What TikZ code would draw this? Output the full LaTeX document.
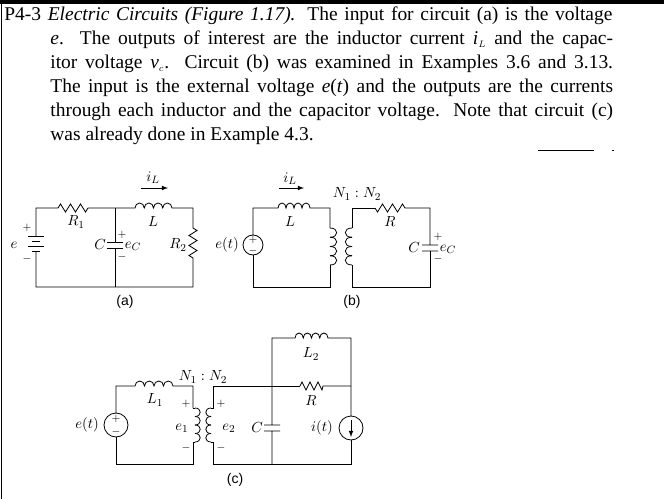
\documentclass[tikz,border=0pt]{standalone}
\usepackage{fontspec}
\setmainfont{Liberation Serif}
\setsansfont{Liberation Sans}
\newcommand\vcoil[5]{% x, y0, step, n, bulge (+right/-left)
  \foreach \k in {1,...,#4}{
    \draw ({#1},{#2+#3*(\k-1)}) .. controls ({#1+#5},{#2+#3*(\k-1)}) and ({#1+#5},{#2+#3*\k}) .. ({#1},{#2+#3*\k});}}
\begin{document}
\begin{tikzpicture}[x=0.75pt,y=-0.75pt,line width=0.6pt,
  lbl/.style={font=\fontsize{11}{12}\selectfont,inner sep=0pt},
  pm/.style={font=\fontsize{8}{9}\selectfont,inner sep=0pt},
  sub/.style={font=\sffamily\fontsize{10.5}{12}\selectfont,inner sep=0pt},
  txt/.style={font=\fontsize{14.6}{16}\selectfont,anchor=base west,inner sep=0pt}]
\useasboundingbox (0,0) rectangle (664,499);
\fill (0,0) rectangle (664,4);
\draw (1,0) -- (1,499);
\draw (538,150) -- (594,150); \draw (612,150) -- (614,150);
% text
\node[txt] (t1) at (4,21) {\makebox[456pt][s]{P4-3 \textit{Electric Circuits (Figure 1.17).} The input for circuit (a) is the voltage}};
\node[txt] (t2) at (50,45) {\makebox[422pt][s]{\textit{e}. The outputs of interest are the inductor current \textit{i}$_{\scriptscriptstyle L}$ and the capac-}};
\node[txt] (t3) at (50,69) {\makebox[422pt][s]{itor voltage \textit{v}$_{\scriptscriptstyle c}$. Circuit (b) was examined in Examples 3.6 and 3.13.}};
\node[txt] (t4) at (50,93) {\makebox[422pt][s]{The input is the external voltage \textit{e}(\textit{t}) and the outputs are the currents}};
\node[txt] (t5) at (50,117) {\makebox[422pt][s]{through each inductor and the capacitor voltage. Note that circuit (c)}};
\node[txt] (t6) at (50,141) {was already done in Example 4.3.};
% ---------- (a)
\draw (36,236) -- (36,208) -- (58,208) -- (60.5,204) -- (65.5,212) -- (70.5,204) -- (75.5,212) -- (80.5,204) -- (85.5,212) -- (88,208) -- (135,208)
  \foreach \k in {1,...,4}{ arc(180:360:4.625 and 5) } -- (193,208) -- (193,228) -- (197,230.5) -- (189,235.5) -- (197,240.5) -- (189,245.5) -- (197,250.5) -- (189,255.5) -- (193,258) -- (193,287) -- (36,287) -- (36,251);
\draw (28,236) -- (44,236) (32,241) -- (40,241) (28,246) -- (44,246) (32,251) -- (40,251);
\draw (115,208) -- (115,242) (107,242) -- (123,242) (107,248) -- (123,248) (115,248) -- (115,287);
\node[lbl] (ae) at (14,245) {$e$};
\node[pm] (ap) at (27,228) {$+$}; \node[pm] (am) at (27,259) {$-$};
\node[lbl] (aR1) at (76,222) {$R_1$};
\node[lbl] (aC) at (100,245) {$C$};
\node[lbl] (aeC) at (133,246) {$e_C$};
\node[pm] (acp) at (122,235) {$+$}; \node[pm] (acm) at (122,257) {$-$};
\node[lbl] (aL) at (153,222) {$L$};
\node[lbl] (aiL) at (153,178) {$i_L$};
\draw[-latex] (141,188) -- (168,188);
\node[lbl] (aR2) at (178,245) {$R_2$};
\node[sub] (alab) at (125,302) {(a)};
% ---------- (b)
\draw (253,245) circle (10);
\node[pm] (bp) at (253,240) {$+$}; \node[pm] (bm) at (253,251) {$-$};
\draw (253,235) -- (253,208) -- (278,208) \foreach \k in {1,...,4}{ arc(180:360:4 and 5) } -- (330,208) -- (330,228);
\vcoil{330}{228}{9.25}{4}{9}
\draw (330,265) -- (330,287) -- (253,287) -- (253,255);
\draw (375,208) -- (352,208) -- (352,228);
\vcoil{352}{228}{9.25}{4}{-9}
\draw (352,265) -- (352,287) -- (430,287) -- (430,251);
\draw (422,251) -- (438,251) (422,245) -- (438,245) (430,245) -- (430,208) -- (405,208) -- (402.5,204) -- (397.5,212) -- (392.5,204) -- (387.5,212) -- (382.5,204) -- (377.5,212) -- (375,208);
\node[lbl] (bet) at (227,245) {$e(t)$};
\node[lbl] (biL) at (290,179) {$i_L$};
\draw[-latex] (279,188) -- (304,188);
\node[lbl] (bL) at (290,222) {$L$};
\node[lbl] (bN) at (357,194) {$N_1:N_2$};
\node[lbl] (bR) at (390,222) {$R$};
\node[lbl] (bC) at (414,248) {$C$};
\node[lbl] (beC) at (448,249) {$e_C$};
\node[pm] (bcp) at (438,237) {$+$}; \node[pm] (bcm) at (438,259) {$-$};
\node[sub] (blab) at (352,302) {(b)};
% ---------- (c)
\draw (116,425) circle (12);
\node[pm] (cp) at (116,419) {$+$}; \node[pm] (cm) at (116,432) {$-$};
\draw (116,413) -- (116,386) -- (135,386) \foreach \k in {1,...,4}{ arc(180:360:4.75 and 5) } -- (193,386) -- (193,408);
\vcoil{195}{408}{8.5}{4}{7}
\draw (193,408) -- (195,408) (193,442) -- (195,442);
\draw (193,442) -- (193,464) -- (116,464) -- (116,437);
\draw (300,386) -- (213,386) -- (213,408) -- (211,408);
\vcoil{211}{408}{8.5}{4}{-7}
\draw (211,442) -- (213,442) -- (213,464) -- (351,464) -- (351,440);
\draw (300,386) -- (302,382) -- (306,390) -- (310,382) -- (314,390) -- (318,382) -- (322,390) -- (323,386) -- (351,386);
\draw (272,464) -- (272,431) (264,431) -- (280,431) (264,425) -- (280,425) (272,425) -- (272,338) -- (295,338)
  \foreach \k in {1,...,4}{ arc(180:360:4.125 and 5) } -- (351,338) -- (351,416);
\draw (351,428) circle (12);
\draw[-latex] (351,420) -- (351,437);
\node[lbl] (cet) at (87,425) {$e(t)$};
\node[lbl] (cL1) at (155,400) {$L_1$};
\node[lbl] (cN) at (203,377) {$N_1:N_2$};
\node[lbl] (ce1) at (182,428) {$e_1$};
\node[lbl] (ce2) at (229,428) {$e_2$};
\node[pm] (c1p) at (186,404) {$+$}; \node[pm] (c2p) at (221,404) {$+$};
\node[pm] (c1m) at (186,448) {$-$}; \node[pm] (c2m) at (221,448) {$-$};
\node[lbl] (cC) at (257,428) {$C$};
\node[lbl] (cL2) at (311,354) {$L_2$};
\node[lbl] (cR) at (311,401) {$R$};
\node[lbl] (cit) at (322,428) {$i(t)$};
\node[sub] (clab) at (235,480) {(c)};
\end{tikzpicture}
\end{document}
